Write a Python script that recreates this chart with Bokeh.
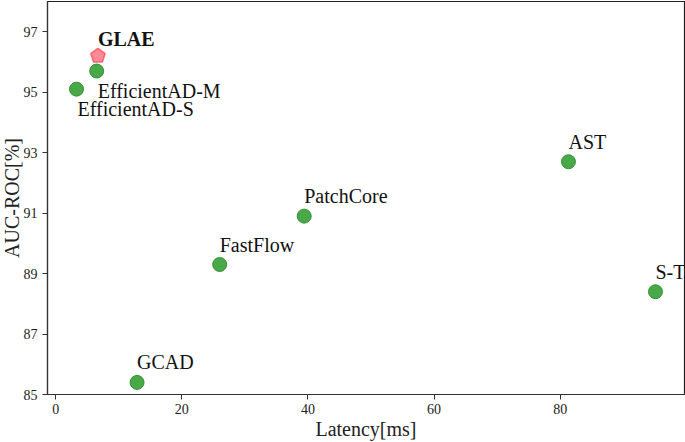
from bokeh.core.properties import value
from bokeh.embed import file_html
from bokeh.models import FixedTicker, Range1d, Title
from bokeh.plotting import figure
from bokeh.resources import INLINE

# Latency vs. AUC-ROC for anomaly detection methods
methods = ["EfficientAD-M", "EfficientAD-S", "GCAD", "FastFlow", "PatchCore", "AST", "S-T"]
latency_ms = [6.5, 3.3, 12.9, 26.0, 39.4, 81.3, 95.1]
auc_roc = [95.7, 95.1, 85.4, 89.3, 90.9, 92.7, 88.4]

ours_name = ["GLAE"]
ours_latency = [6.7]
ours_auc = [96.2]

x_ticks = [0, 20, 40, 60, 80]
y_ticks = [85, 87, 89, 91, 93, 95, 97]

SERIF = "Liberation Serif"

p = figure(
    width=685, height=442,
    output_backend="svg", toolbar_location=None,
    x_range=Range1d(-1.3, 99.7), y_range=Range1d(85, 98),
    min_border_left=40, min_border_right=1, min_border_top=1, min_border_bottom=40,
)
p.grid.visible = False
p.outline_line_color = "#222222"
p.outline_line_width = 1.2
p.background_fill_color = "white"
p.border_fill_color = "white"

for ax in (p.xaxis[0], p.yaxis[0]):
    ax.axis_line_color = "#333333"
    ax.axis_line_width = 1.2
    ax.major_tick_line_color = "#333333"
    ax.major_tick_out = 5
    ax.major_tick_in = 0
    ax.minor_tick_line_color = None
    ax.major_label_text_font = SERIF
    ax.major_label_text_font_size = "14px"
    ax.major_label_text_color = "#222222"
    ax.axis_label_text_font = SERIF
    ax.axis_label_text_font_size = "20px"
    ax.axis_label_text_font_style = "normal"
    ax.axis_label_text_color = "#222222"

p.xaxis.ticker = FixedTicker(ticks=x_ticks)
p.yaxis.ticker = FixedTicker(ticks=y_ticks)
p.xaxis.axis_label = "Latency[ms]"
p.xaxis.major_label_standoff = 4
p.xaxis.axis_label_standoff = 1
p.yaxis.major_label_standoff = 5

# Vertical y label as a side title, for tighter spacing
p.add_layout(Title(text="AUC-ROC[%]", align="center", text_font=SERIF,
                   text_font_size="20px", text_font_style="normal",
                   text_color="#222222", standoff=-4, offset=0), "left")

# Baseline methods
p.scatter(latency_ms, auc_roc, size=14, marker="circle",
          fill_color="#35a035", fill_alpha=0.9,
          line_color="#2a8a2a", line_alpha=0.9, line_width=1)

# Proposed method as a pentagon
p.ngon(ours_latency, ours_auc, radius=7.5, radius_units="screen", n=5,
       angle=0,
       fill_color="#ff6e7a", fill_alpha=0.8,
       line_color="#ff5262", line_alpha=0.85, line_width=1.5)

# Method labels
above = [m for m in methods if m not in ("EfficientAD-M", "EfficientAD-S")]
ax_x = [latency_ms[methods.index(m)] for m in above]
ax_y = [auc_roc[methods.index(m)] for m in above]
p.text(ax_x, ax_y, text=above, x_offset=0, y_offset=-9,
       text_font=value(SERIF), text_font_size="20px",
       text_color="#111111", text_baseline="bottom", text_align="left")

below = ["EfficientAD-M", "EfficientAD-S"]
bx = [latency_ms[methods.index(m)] for m in below]
by = [auc_roc[methods.index(m)] for m in below]
p.text(bx, by, text=below, x_offset=1, y_offset=9,
       text_font=value(SERIF), text_font_size="20px",
       text_color="#111111", text_baseline="top", text_align="left")

p.text(ours_latency, ours_auc, text=ours_name, x_offset=0, y_offset=-6,
       text_font=value(SERIF), text_font_size="20px", text_font_style="bold",
       text_color="#111111", text_baseline="bottom", text_align="left")

open("out.html", "w").write(file_html(p, INLINE))
